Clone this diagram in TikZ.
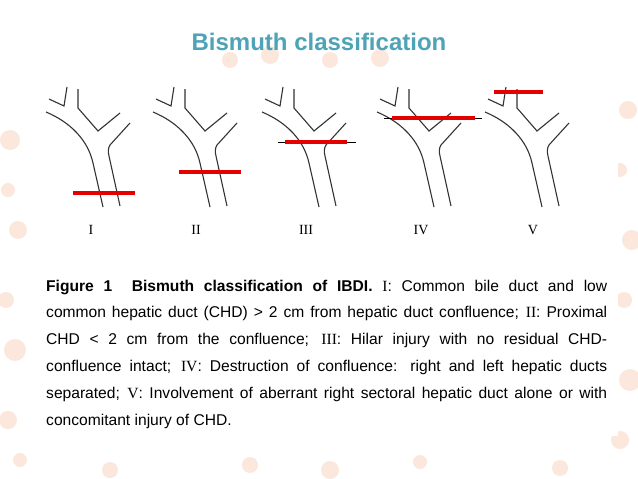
\documentclass[tikz,border=0pt]{standalone}
\usepackage{fontspec}
\setmainfont{Liberation Sans}
\newfontfamily\rmn{Liberation Serif}
\begin{document}
\begin{tikzpicture}[x=1pt,y=-1pt,
  duct/.style={draw=black!80,line width=1.1pt},
  bar/.style={draw=red!90!black,line width=4pt},
  thinline/.style={draw=black,line width=0.7pt},
  lab/.style={font=\rmn\fontsize{14}{14}\selectfont},
  captxt/.style={anchor=west,inner sep=0pt,font=\fontsize{15.6}{15.6}\selectfont}]
\useasboundingbox (0,0) rectangle (638,479);
\fill[white] (0,0) rectangle (638,479);
\definecolor{dot}{RGB}{251,231,220}
\definecolor{teal}{RGB}{78,163,182}
\foreach \p/\r in {{(10,140)/10},{(8,190)/7},{(18,230)/9},{(6,300)/8},{(15,350)/11},{(8,420)/9},{(20,460)/7},{(628,110)/9},{(620,170)/7},{(632,240)/10},{(624,300)/8},{(630,380)/11},{(620,440)/9},{(250,465)/8},{(330,470)/9},{(420,462)/7},{(560,468)/8},{(110,470)/8},{(230,60)/8},{(270,55)/9},{(330,60)/8},{(380,58)/9}}
  \fill[dot] \p circle (\r);
\fill[white] (30,73) rectangle (618,436);
\node (title) at (319,42) {\textcolor{teal}{\fontsize{24}{24}\selectfont\bfseries Bismuth classification}};
\foreach \dx/\nm in {0/a,107/b,216/c,331/d,439/e}{
 \begin{scope}[xshift=\dx]
  \draw[duct] (46,112) .. controls (70,122) and (88,140) .. (93,163) -- (103,207);
  \draw[duct] (49,99) -- (64,106) -- (67,87);
  \draw[duct] (78,89) -- (78,108) -- (98,131) -- (120,113);
  \draw[duct] (130,123) -- (110,145) .. controls (108,148) and (108,152) .. (109,156) -- (120,206);
 \end{scope}}
\coordinate (t3a) at (278,142); \coordinate (t3b) at (356,142);
\draw[thinline] (t3a) -- (t3b);
\coordinate (t4a) at (384,118); \coordinate (t4b) at (482,118);
\draw[thinline] (t4a) -- (t4b);
\coordinate (r1a) at (73,193); \coordinate (r1b) at (135,193);
\coordinate (r2a) at (179,172); \coordinate (r2b) at (241,172);
\coordinate (r3a) at (285,142); \coordinate (r3b) at (347,142);
\coordinate (r4a) at (392,118); \coordinate (r4b) at (475,118);
\coordinate (r5a) at (494,92); \coordinate (r5b) at (543,92);
\foreach \i in {1,...,5} \draw[bar] (r\i a) -- (r\i b);
\node[lab] (l1) at (91,230) {I};
\node[lab] (l2) at (196,230) {II};
\node[lab] (l3) at (306,230) {III};
\node[lab] (l4) at (421,230) {IV};
\node[lab] (l5) at (533,230) {V};
\node[captxt] (c1) at (46,287) {\makebox[561pt][s]{\textbf{Figure 1~ Bismuth classification of IBDI.} {\rmn I}: Common bile duct and low}};
\node[captxt] (c2) at (46,313) {\makebox[561pt][s]{common hepatic duct (CHD) > 2 cm from hepatic duct confluence; {\rmn II}: Proximal}};
\node[captxt] (c3) at (46,340) {\makebox[561pt][s]{CHD < 2 cm from the confluence; {\rmn III}: Hilar injury with no residual CHD-}};
\node[captxt] (c4) at (46,367) {\makebox[561pt][s]{confluence intact; {\rmn IV}: Destruction of confluence: right and left hepatic ducts}};
\node[captxt] (c5) at (46,394) {\makebox[561pt][s]{separated; {\rmn V}: Involvement of aberrant right sectoral hepatic duct alone or with}};
\node[captxt] (c6) at (46,421) {concomitant injury of CHD.};
\end{tikzpicture}
\end{document}
